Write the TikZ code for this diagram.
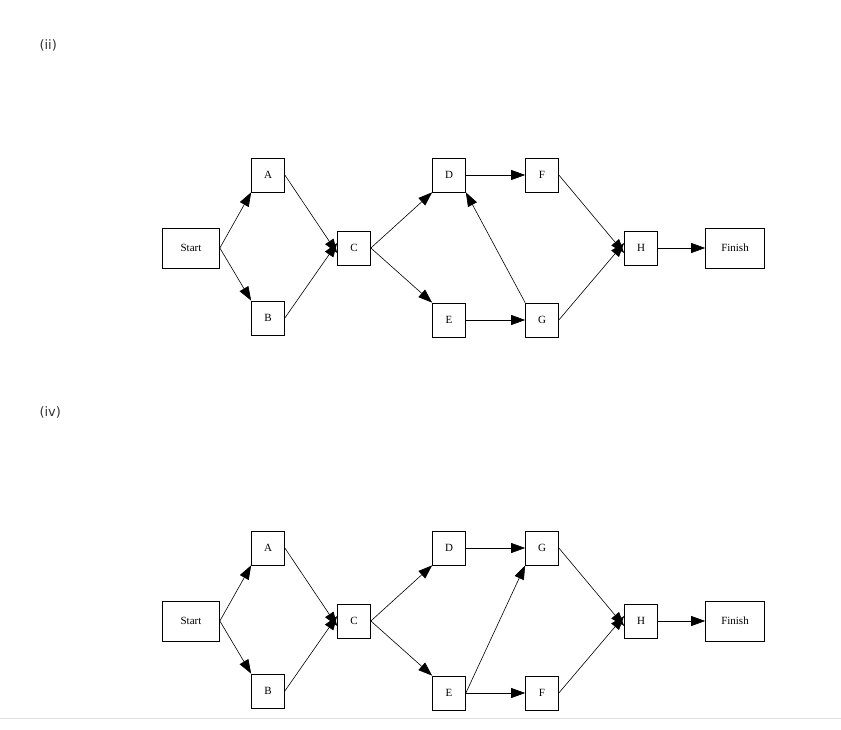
\documentclass[tikz,border=0pt]{standalone}
\usepackage{fontspec}
\setmainfont{Liberation Serif}
\newfontfamily\lblfont{DejaVu Sans}
\usetikzlibrary{arrows.meta}
\begin{document}
\begin{tikzpicture}[x=1pt,y=-1pt,
  box/.style={draw,line width=0.7pt,minimum width=33pt,minimum height=34pt,inner sep=1pt,font=\fontsize{11}{12}\selectfont},
  wbox/.style={box,minimum width=57pt,minimum height=40pt},
  arr/.style={line width=0.6pt,-{Triangle[length=14pt,width=10pt]}},
  tag/.style={font=\lblfont\fontsize{13}{15}\selectfont,text=black!80}]
\useasboundingbox (0,0) rectangle (841,730);
\node[tag,anchor=west] (t1) at (36,45) {(ii)};
\node[tag,anchor=west] (t2) at (36,412) {(iv)};
\draw[black!12] (0,718) -- (841,718);
% top diagram
\begin{scope}
\node[wbox] (S) at (191,248) {Start};
\node[box] (A) at (268,175) {A};
\node[box] (B) at (268,318) {B};
\node[box] (C) at (354,248) {C};
\node[box] (D) at (449,175) {D};
\node[box] (E) at (449,320) {E};
\node[box] (F) at (542,175) {F};
\node[box] (G) at (542,320) {G};
\node[box] (H) at (641,248) {H};
\node[wbox,minimum width=59pt] (Fi) at (735,248) {Finish};
\draw[arr] (S.east) -- (A.south west);
\draw[arr] (S.east) -- (B.north west);
\draw[arr] (A.east) -- ([yshift=-5pt]C.west);
\draw[arr] (B.east) -- ([yshift=5pt]C.west);
\draw[arr] (C.east) -- (D.south west);
\draw[arr] (C.east) -- (E.north west);
\draw[arr] (D.east) -- (F.west);
\draw[arr] (E.east) -- (G.west);
\draw[arr] (G.north west) -- (D.south east);
\draw[arr] (F.east) -- ([yshift=-5pt]H.west);
\draw[arr] (G.east) -- ([yshift=5pt]H.west);
\draw[arr] (H.east) -- (Fi.west);
\end{scope}
% bottom diagram
\node[wbox] (S2) at (191,621) {Start};
\node[box] (A2) at (268,548) {A};
\node[box] (B2) at (268,691) {B};
\node[box] (C2) at (354,621) {C};
\node[box] (D2) at (449,548) {D};
\node[box] (E2) at (449,693) {E};
\node[box] (G2) at (542,548) {G};
\node[box] (F2) at (542,693) {F};
\node[box] (H2) at (641,621) {H};
\node[wbox,minimum width=59pt] (Fi2) at (735,621) {Finish};
\draw[arr] (S2.east) -- (A2.south west);
\draw[arr] (S2.east) -- (B2.north west);
\draw[arr] (A2.east) -- ([yshift=-5pt]C2.west);
\draw[arr] (B2.east) -- ([yshift=5pt]C2.west);
\draw[arr] (C2.east) -- (D2.south west);
\draw[arr] (C2.east) -- (E2.north west);
\draw[arr] (D2.east) -- (G2.west);
\draw[arr] (E2.east) -- (F2.west);
\draw[arr] (E2.east) -- (G2.south west);
\draw[arr] (G2.east) -- ([yshift=-5pt]H2.west);
\draw[arr] (F2.east) -- ([yshift=5pt]H2.west);
\draw[arr] (H2.east) -- (Fi2.west);
\end{tikzpicture}
\end{document}
